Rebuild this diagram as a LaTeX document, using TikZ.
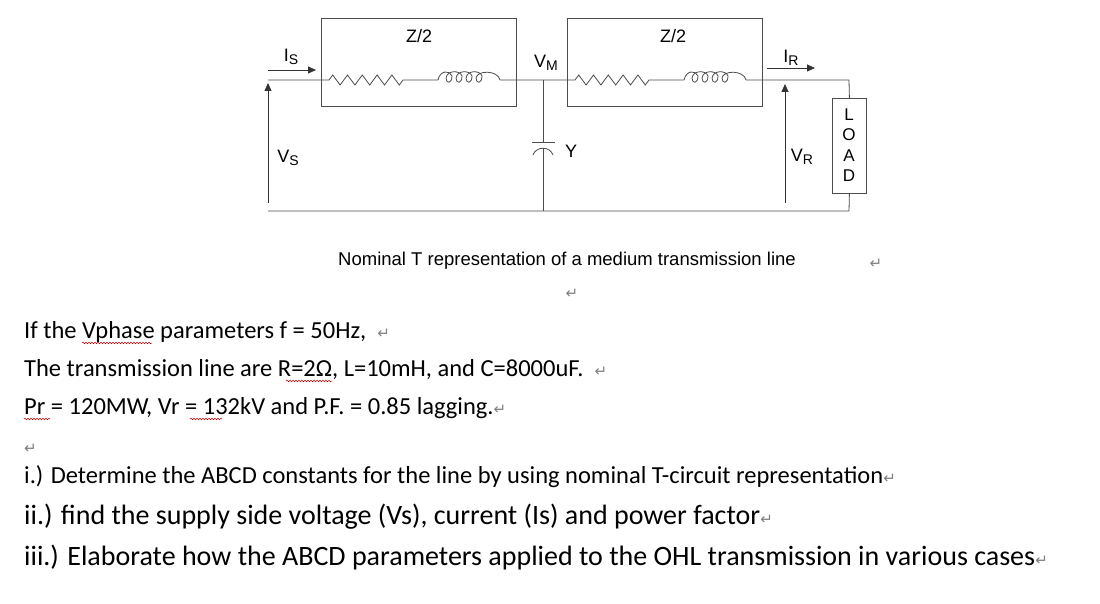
\documentclass[tikz,border=0pt]{standalone}
\usepackage{fontspec}
\setmainfont{Carlito}
\newfontfamily\arialf{Liberation Sans}
\newfontfamily\djv{DejaVu Sans}
\usetikzlibrary{decorations.pathmorphing,arrows.meta}
\newcommand{\ret}{{\djv\color{gray}\fontsize{15}{15}\selectfont ↵}}
\newcommand{\sbx}[1]{\raisebox{-3.5pt}{\fontsize{14}{14}\selectfont #1}}
\begin{document}
\begin{tikzpicture}[x=1pt,y=-1pt,
  wire/.style={draw=black!70,line width=0.8pt},
  varr/.style={draw=black!80,line width=0.8pt,-{Triangle[length=8pt,width=7pt]}},
  lab/.style={font=\arialf\fontsize{18}{18}\selectfont,inner sep=0pt},
  txt/.style={anchor=base west,inner sep=0pt,font=\fontsize{24.5}{24}\selectfont},
  big/.style={anchor=base west,inner sep=0pt,font=\fontsize{28}{28}\selectfont},
  squig/.style={draw=red!80!black,line width=0.5pt,decorate,decoration={snake,amplitude=0.8pt,segment length=3pt}}]
\path[fill=white] (0,0) rectangle (1100,604);
\useasboundingbox (0,0) rectangle (1100,604);
% boxes
\node[draw=black!70,line width=0.8pt,minimum width=195pt,minimum height=88pt,anchor=north west,inner sep=0pt] (b1) at (321,18) {};
\node[draw=black!70,line width=0.8pt,minimum width=195pt,minimum height=88pt,anchor=north west,inner sep=0pt] (b2) at (567,18) {};
\node[lab] (z1) at (419,36) {Z/2};
\node[lab] (z2) at (673,36) {Z/2};
% load
\node[draw=black!70,line width=0.8pt,minimum width=34pt,minimum height=95pt,anchor=north west,inner sep=0pt] (load) at (832,98) {};
\node[lab,align=center,font=\arialf\fontsize{17}{20.5}\selectfont] (lt) at (849,145) {L\\O\\A\\D};
% coordinates
\coordinate (sl) at (268,80);
\coordinate (bl) at (268,211);
\coordinate (tr) at (849,80);
\coordinate (br) at (849,211);
\coordinate (cm) at (543,80);
\coordinate (cb) at (543,211);
% top wire with components
\draw[wire] (sl) -- (329,80)
  decorate[decoration={zigzag,amplitude=5pt,segment length=14.8pt}]{-- (403,80)} -- (438,80);
\draw[wire] (438,80) .. controls (440,70) and (450,70) .. (452,76)
  .. controls (452,84) and (446,84) .. (446,78) .. controls (447,70) and (460,70) .. (462,76)
  .. controls (462,84) and (456,84) .. (456,78) .. controls (457,70) and (470,70) .. (472,76)
  .. controls (472,84) and (466,84) .. (466,78) .. controls (467,70) and (480,70) .. (482,76)
  .. controls (482,84) and (476,84) .. (476,78) .. controls (477,70) and (498,70) .. (500,80);
\draw[wire] (500,80) -- (575,80)
  decorate[decoration={zigzag,amplitude=5pt,segment length=14.8pt}]{-- (649,80)} -- (684,80);
\draw[wire] (684,80) .. controls (686,70) and (696,70) .. (698,76)
  .. controls (698,84) and (692,84) .. (692,78) .. controls (693,70) and (706,70) .. (708,76)
  .. controls (708,84) and (702,84) .. (702,78) .. controls (703,70) and (716,70) .. (718,76)
  .. controls (718,84) and (712,84) .. (712,78) .. controls (713,70) and (726,70) .. (728,76)
  .. controls (728,84) and (722,84) .. (722,78) .. controls (723,70) and (744,70) .. (746,80);
\draw[wire] (746,80) -- (tr) -- (load.north);
\draw[wire] (load.south) -- (br) -- (bl);
% capacitor
\draw[wire] (cm) -- (543,142);
\draw[wire] (532,142) -- (555,142);
\draw[wire] (533,155) .. controls (536,146) and (550,146) .. (553,155);
\draw[wire] (543,148) -- (cb);
% arrows
\coordinate (isa) at (268,70); \coordinate (isb) at (316,70);
\draw[varr] (isa) -- (isb);
\coordinate (vsa) at (268,203); \coordinate (vsb) at (268,83);
\draw[varr] (vsa) -- (vsb);
\coordinate (ira) at (767,68); \coordinate (irb) at (815,68);
\draw[varr] (ira) -- (irb);
\coordinate (vra) at (785,203); \coordinate (vrb) at (785,84);
\draw[varr] (vra) -- (vrb);
% labels
\node[lab] (is) at (291,57) {I\sbx{S}};
\node[lab] (vs) at (288,158) {V\sbx{S}};
\node[lab] (vm) at (546,63) {V\sbx{M}};
\node[lab] (y) at (571,151) {Y};
\node[lab] (ir) at (791,58) {I\sbx{R}};
\node[lab] (vr) at (802,157) {V\sbx{R}};
% caption
\node[inner sep=0pt,font=\arialf\fontsize{18.5}{18}\selectfont] (cap) at (567,261) {Nominal T representation of a medium transmission line};
\node[inner sep=0pt] (r1) at (876,264) {\ret};
\node[inner sep=0pt] (r2) at (572,294) {\ret};
% text
\node[txt] (t1) at (24,338) {If the Vphase parameters f = 50Hz, \ \ret};
\node[txt] (t2) at (24,376) {The transmission line are R=2Ω, L=10mH, and C=8000uF. \ \ret};
\node[txt] (t3) at (24,414) {Pr = 120MW, Vr = 132kV and P.F. = 0.85 lagging.\ret};
\node[txt] (t4) at (24,453) {\ret};
\node[txt] (t5) at (24,483) {i.) Determine the ABCD constants for the line by using nominal T-circuit representation\ret};
\node[big] (t6) at (24,524) {ii.) find the supply side voltage (Vs), current (Is) and power factor\ret};
\node[big] (t7) at (24,565) {iii.) Elaborate how the ABCD parameters applied to the OHL transmission in various cases\ret};
\draw[squig] (82,343) -- (152,343);
\draw[squig] (286,381) -- (332,381);
\draw[squig] (24,419) -- (50,419);
\draw[squig] (190,419) -- (222,419);
\end{tikzpicture}
\end{document}
